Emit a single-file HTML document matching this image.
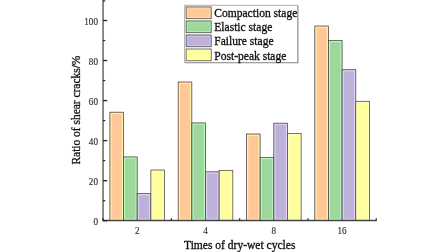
<!DOCTYPE html>
<html><head><meta charset="utf-8"><style>
html,body{margin:0;padding:0;background:#fff;width:448px;height:252px;overflow:hidden}
svg{display:block}
text{font-family:"Liberation Serif","Times New Roman",serif;fill:#111;stroke:#111;stroke-width:0.3px}
.tk{font-size:9.1px;fill:#333;stroke:#333;stroke-width:0.15px}
.ti{font-size:11.55px}
.lg{font-size:11.55px}
</style></head><body>
<svg width="448" height="252" viewBox="0 0 448 252">
<rect x="109.88" y="112.20" width="13.66" height="108.25" fill="#FFC896"/>
<rect x="111.03" y="113.35" width="11.36" height="105.95" fill="none" stroke="#FFF8B2" stroke-width="1.0"/>
<rect x="109.88" y="112.20" width="13.66" height="108.25" fill="none" stroke="#474747" stroke-width="0.75"/>
<rect x="123.54" y="156.90" width="13.66" height="63.55" fill="#9ED79C"/>
<rect x="124.69" y="158.05" width="11.36" height="61.25" fill="none" stroke="#BDFFBA" stroke-width="1.0"/>
<rect x="123.54" y="156.90" width="13.66" height="63.55" fill="none" stroke="#474747" stroke-width="0.75"/>
<rect x="137.20" y="193.60" width="13.66" height="26.85" fill="#BEB1D9"/>
<rect x="138.35" y="194.75" width="11.36" height="24.55" fill="none" stroke="#EAD8FF" stroke-width="1.0"/>
<rect x="137.20" y="193.60" width="13.66" height="26.85" fill="none" stroke="#474747" stroke-width="0.75"/>
<rect x="150.86" y="170.00" width="13.66" height="50.45" fill="#FFFE9E"/>
<rect x="152.01" y="171.15" width="11.36" height="48.15" fill="none" stroke="#FFFFBD" stroke-width="1.0"/>
<rect x="150.86" y="170.00" width="13.66" height="50.45" fill="none" stroke="#474747" stroke-width="0.75"/>
<rect x="178.18" y="82.00" width="13.66" height="138.45" fill="#FFC896"/>
<rect x="179.33" y="83.15" width="11.36" height="136.15" fill="none" stroke="#FFF8B2" stroke-width="1.0"/>
<rect x="178.18" y="82.00" width="13.66" height="138.45" fill="none" stroke="#474747" stroke-width="0.75"/>
<rect x="191.84" y="122.90" width="13.66" height="97.55" fill="#9ED79C"/>
<rect x="192.99" y="124.05" width="11.36" height="95.25" fill="none" stroke="#BDFFBA" stroke-width="1.0"/>
<rect x="191.84" y="122.90" width="13.66" height="97.55" fill="none" stroke="#474747" stroke-width="0.75"/>
<rect x="205.50" y="171.80" width="13.66" height="48.65" fill="#BEB1D9"/>
<rect x="206.65" y="172.95" width="11.36" height="46.35" fill="none" stroke="#EAD8FF" stroke-width="1.0"/>
<rect x="205.50" y="171.80" width="13.66" height="48.65" fill="none" stroke="#474747" stroke-width="0.75"/>
<rect x="219.16" y="170.35" width="13.66" height="50.10" fill="#FFFE9E"/>
<rect x="220.31" y="171.50" width="11.36" height="47.80" fill="none" stroke="#FFFFBD" stroke-width="1.0"/>
<rect x="219.16" y="170.35" width="13.66" height="50.10" fill="none" stroke="#474747" stroke-width="0.75"/>
<rect x="246.48" y="134.00" width="13.66" height="86.45" fill="#FFC896"/>
<rect x="247.63" y="135.15" width="11.36" height="84.15" fill="none" stroke="#FFF8B2" stroke-width="1.0"/>
<rect x="246.48" y="134.00" width="13.66" height="86.45" fill="none" stroke="#474747" stroke-width="0.75"/>
<rect x="260.14" y="157.50" width="13.66" height="62.95" fill="#9ED79C"/>
<rect x="261.29" y="158.65" width="11.36" height="60.65" fill="none" stroke="#BDFFBA" stroke-width="1.0"/>
<rect x="260.14" y="157.50" width="13.66" height="62.95" fill="none" stroke="#474747" stroke-width="0.75"/>
<rect x="273.80" y="123.20" width="13.66" height="97.25" fill="#BEB1D9"/>
<rect x="274.95" y="124.35" width="11.36" height="94.95" fill="none" stroke="#EAD8FF" stroke-width="1.0"/>
<rect x="273.80" y="123.20" width="13.66" height="97.25" fill="none" stroke="#474747" stroke-width="0.75"/>
<rect x="287.46" y="133.60" width="13.66" height="86.85" fill="#FFFE9E"/>
<rect x="288.61" y="134.75" width="11.36" height="84.55" fill="none" stroke="#FFFFBD" stroke-width="1.0"/>
<rect x="287.46" y="133.60" width="13.66" height="86.85" fill="none" stroke="#474747" stroke-width="0.75"/>
<rect x="314.78" y="26.00" width="13.66" height="194.45" fill="#FFC896"/>
<rect x="315.93" y="27.15" width="11.36" height="192.15" fill="none" stroke="#FFF8B2" stroke-width="1.0"/>
<rect x="314.78" y="26.00" width="13.66" height="194.45" fill="none" stroke="#474747" stroke-width="0.75"/>
<rect x="328.44" y="40.50" width="13.66" height="179.95" fill="#9ED79C"/>
<rect x="329.59" y="41.65" width="11.36" height="177.65" fill="none" stroke="#BDFFBA" stroke-width="1.0"/>
<rect x="328.44" y="40.50" width="13.66" height="179.95" fill="none" stroke="#474747" stroke-width="0.75"/>
<rect x="342.10" y="69.70" width="13.66" height="150.75" fill="#BEB1D9"/>
<rect x="343.25" y="70.85" width="11.36" height="148.45" fill="none" stroke="#EAD8FF" stroke-width="1.0"/>
<rect x="342.10" y="69.70" width="13.66" height="150.75" fill="none" stroke="#474747" stroke-width="0.75"/>
<rect x="355.76" y="101.30" width="13.66" height="119.15" fill="#FFFE9E"/>
<rect x="356.91" y="102.45" width="11.36" height="116.85" fill="none" stroke="#FFFFBD" stroke-width="1.0"/>
<rect x="355.76" y="101.30" width="13.66" height="119.15" fill="none" stroke="#474747" stroke-width="0.75"/>
<line x1="103.05" y1="0" x2="103.05" y2="220.45" stroke="#666" stroke-width="1.5"/>
<line x1="102.35" y1="220.45" x2="376.55" y2="220.45" stroke="#444" stroke-width="1.5"/>
<line x1="103.05" y1="220.70" x2="107.25" y2="220.70" stroke="#222" stroke-width="1.3"/>
<line x1="103.05" y1="200.68" x2="105.25" y2="200.68" stroke="#222" stroke-width="1.2"/>
<line x1="103.05" y1="180.66" x2="107.25" y2="180.66" stroke="#222" stroke-width="1.3"/>
<line x1="103.05" y1="160.64" x2="105.25" y2="160.64" stroke="#222" stroke-width="1.2"/>
<line x1="103.05" y1="140.62" x2="107.25" y2="140.62" stroke="#222" stroke-width="1.3"/>
<line x1="103.05" y1="120.60" x2="105.25" y2="120.60" stroke="#222" stroke-width="1.2"/>
<line x1="103.05" y1="100.58" x2="107.25" y2="100.58" stroke="#222" stroke-width="1.3"/>
<line x1="103.05" y1="80.56" x2="105.25" y2="80.56" stroke="#222" stroke-width="1.2"/>
<line x1="103.05" y1="60.54" x2="107.25" y2="60.54" stroke="#222" stroke-width="1.3"/>
<line x1="103.05" y1="40.52" x2="105.25" y2="40.52" stroke="#222" stroke-width="1.2"/>
<line x1="103.05" y1="20.50" x2="107.25" y2="20.50" stroke="#222" stroke-width="1.3"/>
<line x1="103.05" y1="0.90" x2="105.25" y2="0.90" stroke="#222" stroke-width="1.2"/>
<text transform="translate(97.95,224.85) scale(1,1.1)" text-anchor="end" class="tk">0</text>
<text transform="translate(97.95,184.81) scale(1,1.1)" text-anchor="end" class="tk">20</text>
<text transform="translate(97.95,144.77) scale(1,1.1)" text-anchor="end" class="tk">40</text>
<text transform="translate(97.95,104.73) scale(1,1.1)" text-anchor="end" class="tk">60</text>
<text transform="translate(97.95,64.69) scale(1,1.1)" text-anchor="end" class="tk">80</text>
<text transform="translate(97.95,24.65) scale(1,1.1)" text-anchor="end" class="tk">100</text>
<line x1="103.05" y1="220.45" x2="103.05" y2="218.25" stroke="#222" stroke-width="1.2"/>
<line x1="171.35" y1="220.45" x2="171.35" y2="218.25" stroke="#222" stroke-width="1.2"/>
<line x1="239.65" y1="220.45" x2="239.65" y2="218.25" stroke="#222" stroke-width="1.2"/>
<line x1="307.95" y1="220.45" x2="307.95" y2="218.25" stroke="#222" stroke-width="1.2"/>
<line x1="376.25" y1="220.45" x2="376.25" y2="218.25" stroke="#222" stroke-width="1.2"/>
<text transform="translate(137.20,233.8) scale(1,1.1)" text-anchor="middle" class="tk">2</text>
<text transform="translate(205.50,233.8) scale(1,1.1)" text-anchor="middle" class="tk">4</text>
<text transform="translate(273.80,233.8) scale(1,1.1)" text-anchor="middle" class="tk">8</text>
<text transform="translate(342.10,233.8) scale(1,1.1)" text-anchor="middle" class="tk">16</text>
<text transform="translate(239.7,248.7) scale(1,1.06)" text-anchor="middle" class="ti">Times of dry-wet cycles</text>
<text transform="translate(80.0,110.1) rotate(-90)" x="0" y="0" text-anchor="middle" class="ti" style="font-size:11.45px">Ratio of shear cracks/%</text>
<rect x="184.6" y="5.3" width="113.0" height="57.2" fill="#fff" stroke="#b0b0b0" stroke-width="1"/>
<line x1="298" y1="5.6" x2="298" y2="63" stroke="#999" stroke-width="1"/>
<line x1="185" y1="62.8" x2="298.5" y2="62.8" stroke="#999" stroke-width="1"/>
<rect x="186.10" y="6.90" width="25.10" height="11.80" fill="#FFC896"/>
<rect x="187.25" y="8.05" width="22.80" height="9.50" fill="none" stroke="#FFE0A4" stroke-width="1.0"/>
<rect x="186.10" y="6.90" width="25.10" height="11.80" fill="none" stroke="#474747" stroke-width="0.75"/>
<text transform="translate(214.3,16.95) scale(1,1.1)" class="lg">Compaction stage</text>
<rect x="186.10" y="20.93" width="25.10" height="11.80" fill="#9ED79C"/>
<rect x="187.25" y="22.08" width="22.80" height="9.50" fill="none" stroke="#AEF2AB" stroke-width="1.0"/>
<rect x="186.10" y="20.93" width="25.10" height="11.80" fill="none" stroke="#474747" stroke-width="0.75"/>
<text transform="translate(214.3,31.15) scale(1,1.1)" class="lg">Elastic stage</text>
<rect x="186.10" y="34.96" width="25.10" height="11.80" fill="#BEB1D9"/>
<rect x="187.25" y="36.11" width="22.80" height="9.50" fill="none" stroke="#D4C4F4" stroke-width="1.0"/>
<rect x="186.10" y="34.96" width="25.10" height="11.80" fill="none" stroke="#474747" stroke-width="0.75"/>
<text transform="translate(214.3,45.35) scale(1,1.1)" class="lg">Failure stage</text>
<rect x="186.10" y="48.99" width="25.10" height="11.80" fill="#FFFE9E"/>
<rect x="187.25" y="50.14" width="22.80" height="9.50" fill="none" stroke="#FFFFAE" stroke-width="1.0"/>
<rect x="186.10" y="48.99" width="25.10" height="11.80" fill="none" stroke="#474747" stroke-width="0.75"/>
<text transform="translate(214.3,59.55) scale(1,1.1)" class="lg">Post-peak stage</text>
</svg>
</body></html>
